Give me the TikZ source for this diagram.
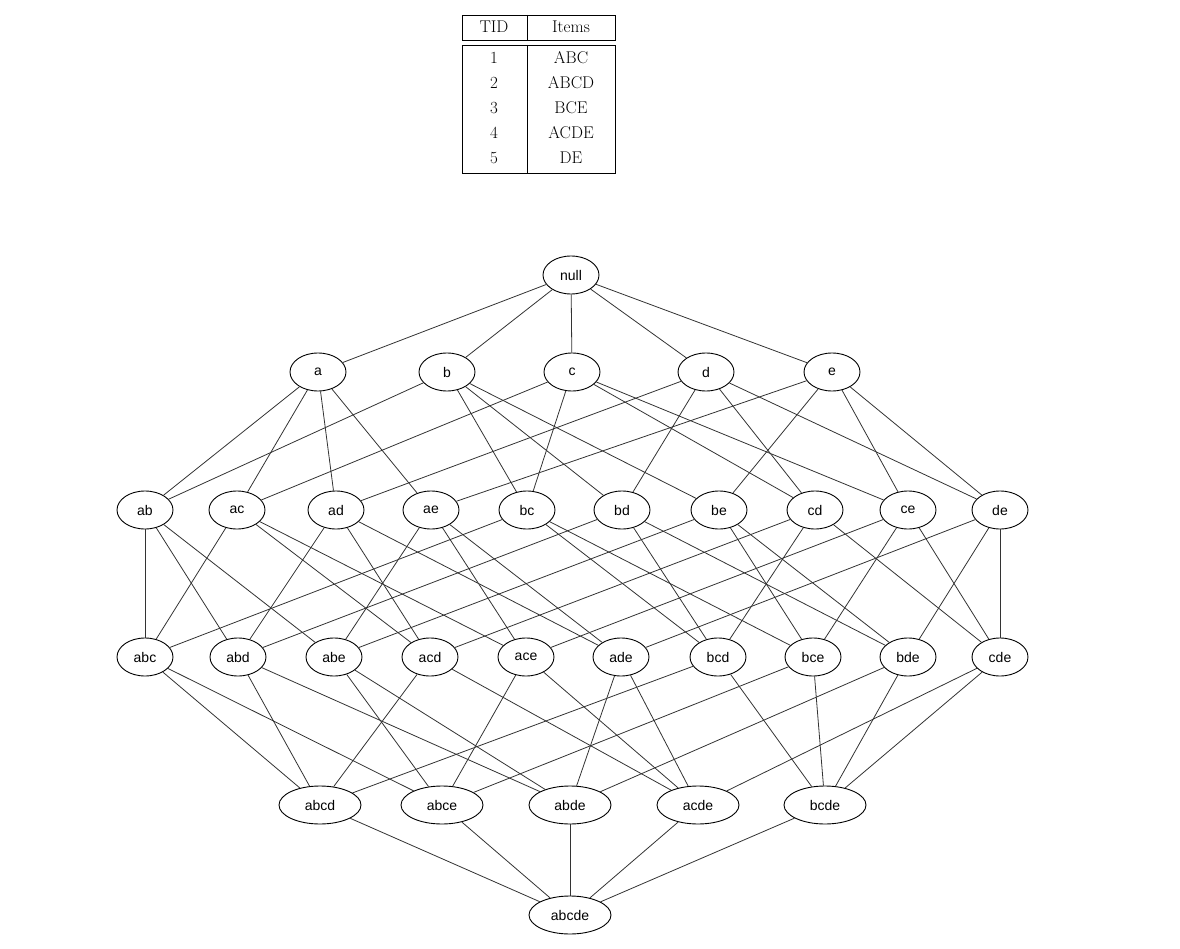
\documentclass[tikz,border=0pt]{standalone}
\usepackage{fontspec}
\newfontfamily\nodefont{Liberation Sans}
\usetikzlibrary{shapes.geometric}
\begin{document}
\begin{tikzpicture}[x=1pt,y=-1pt,
  it/.style={ellipse,draw,line width=0.9pt,minimum width=56pt,minimum height=38pt,inner sep=1pt,font=\nodefont\fontsize{14}{16}\selectfont},
  wide/.style={it,minimum width=82pt},
  edge/.style={line width=0.8pt,draw=black!80},
  tcell/.style={font=\fontsize{17}{20}\selectfont,inner sep=0pt}]
\useasboundingbox (0,0) rectangle (1180,949);
% table
\draw[line width=0.7pt] (462,15) rectangle (615,40);
\draw[line width=0.7pt] (462,45) rectangle (615,173);
\draw[line width=0.7pt] (527,15) -- (527,40);
\draw[line width=0.7pt] (527,45) -- (527,173);
\node[tcell] (h1) at (494,27) {TID};
\node[tcell] (h2) at (571,27) {Items};
\foreach \i/\s in {1/ABC,2/ABCD,3/BCE,4/ACDE,5/DE}{
  \node[tcell] (t\i) at (494,33+25*\i) {\i};
  \node[tcell] (s\i) at (571,33+25*\i) {\s};
}
% nodes
\node[it] (null) at (571,275) {null};
\foreach \n/\x in {a/318,b/447,c/572,d/706,e/832}
  \node[it] (\n) at (\x,372) {\n};
\foreach \n/\x in {ab/145,ac/237,ad/336,ae/431,bc/527,bd/622,be/719,cd/815,ce/908,de/1000}
  \node[it] (\n) at (\x,510) {\n};
\foreach \n/\x in {abc/145,abd/238,abe/334,acd/430,ace/526,ade/621,bcd/718,bce/813,bde/908,cde/1000}
  \node[it] (\n) at (\x,657) {\n};
\foreach \n/\x in {abcd/320,abce/442,abde/570,acde/698,bcde/825}
  \node[wide] (\n) at (\x,805) {\n};
\node[wide] (abcde) at (570,915) {abcde};
% edges
\foreach \n in {a,b,c,d,e} \draw[edge] (null) -- (\n);
\foreach \p/\q/\r in {a/b/ab,a/c/ac,a/d/ad,a/e/ae,b/c/bc,b/d/bd,b/e/be,c/d/cd,c/e/ce,d/e/de}{
  \draw[edge] (\p) -- (\r); \draw[edge] (\q) -- (\r);}
\foreach \r/\p/\q/\s in {abc/ab/ac/bc,abd/ab/ad/bd,abe/ab/ae/be,acd/ac/ad/cd,ace/ac/ae/ce,ade/ad/ae/de,bcd/bc/bd/cd,bce/bc/be/ce,bde/bd/be/de,cde/cd/ce/de}{
  \draw[edge] (\p) -- (\r); \draw[edge] (\q) -- (\r); \draw[edge] (\s) -- (\r);}
\foreach \r/\p/\q/\s/\t in {abcd/abc/abd/acd/bcd,abce/abc/abe/ace/bce,abde/abd/abe/ade/bde,acde/acd/ace/ade/cde,bcde/bcd/bce/bde/cde}{
  \draw[edge] (\p) -- (\r); \draw[edge] (\q) -- (\r); \draw[edge] (\s) -- (\r); \draw[edge] (\t) -- (\r);}
\foreach \n in {abcd,abce,abde,acde,bcde} \draw[edge] (\n) -- (abcde);
\end{tikzpicture}
\end{document}
